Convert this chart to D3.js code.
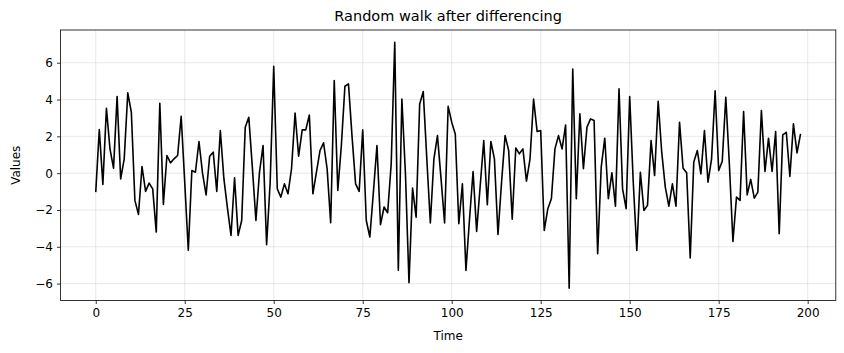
<!DOCTYPE html>
<html>
<head>
<meta charset="utf-8">
<script src="https://cdn.jsdelivr.net/npm/d3@7"></script>
<style>
    body { margin: 0; background: #ffffff; }
    text { font-family: "DejaVu Sans", sans-serif; fill: #000000; }
</style>
</head>
<body>
<div id="chart"></div>
<script>
// Differenced random walk (index = time step)
var values = [
    -1.03, 2.37, -0.61, 3.53, 1.32, 0.27, 4.16, -0.31, 0.78, 4.36,
    3.31, -1.48, -2.24, 0.36, -0.99, -0.54, -0.85, -3.2, 3.8, -1.70,
    0.96, 0.56, 0.78, 0.96, 3.09, -0.5, -4.19, 0.14, 0.05, 1.72,
    0.0, -1.18, 0.92, 1.14, -0.99, 2.31, -0.3, -1.9, -3.38, -0.25,
    -3.38, -2.57, 2.50, 3.04, 0.3, -2.57, 0.05, 1.50, -3.89, -0.49,
    5.80, -0.85, -1.30, -0.58, -1.12, 0.24, 3.27, 0.92, 2.35, 2.35,
    3.16, -1.12, 0.05, 1.23, 1.65, 0.24, -2.69, 5.03, -0.94, 1.5,
    4.72, 4.85, 2.0, -0.58, -0.99, 2.35, -2.57, -3.47, -1.03, 1.50,
    -2.80, -1.84, -2.15, 0.5, 7.11, -5.28, 4.03, 0.0, -5.95, -0.81,
    -2.39, 3.76, 4.43, 0.8, -2.71, 0.78, 2.04, -0.3, -2.71, 3.63,
    2.77, 2.13, -2.75, -0.58, -5.28, -2.5, 0.09, -3.16, -0.7, 1.77,
    -1.72, 1.72, 0.78, -3.33, -0.5, 2.04, 1.23, -2.5, 1.37, 1.05,
    1.32, -0.43, 0.78, 4.03, 2.26, 2.31, -3.11, -1.93, -1.39, 1.32,
    2.04, 1.32, 2.62, -6.25, 5.66, -1.39, 3.22, 0.24, 2.50, 2.95,
    2.86, -4.38, 0.33, 1.90, -1.39, 0.02, -1.79, 4.58, -0.85, -1.93,
    4.16, -0.49, -4.2, 0.05, -2.03, -1.75, 1.77, -0.13, 3.91, 1.14,
    -0.76, -1.79, -0.58, -1.79, 2.77, 0.27, 0.02, -4.61, 0.60, 1.23,
    -0.04, 2.31, -0.49, 0.78, 4.48, 0.14, 0.65, 4.12, 0.5, -3.71,
    -1.30, -1.48, 3.35, -1.18, -0.34, -1.36, -1.03, 3.40, 0.09, 1.90,
    0.09, 2.26, -3.29, 2.08, 2.22, -0.18, 2.68, 1.10, 2.13
];

var xTicks = [0, 25, 50, 75, 100, 125, 150, 175, 200];
var yTicks = [-6, -4, -2, 0, 2, 4, 6];

var titleText = "Random walk after differencing";
var xLabel = "Time";
var yLabel = "Values";

function main() {
    var margin = {top: 30, right: 8.2, bottom: 52.5, left: 60.5},
        width = 844 - margin.left - margin.right,
        height = 353 - margin.top - margin.bottom;

    var svg = d3.select("#chart").append("svg")
        .attr("width", 844)
        .attr("height", 353);

    var g = svg.append("g")
        .attr("transform", "translate(" + margin.left + "," + margin.top + ")");

    // matplotlib style 5% padding around the data
    var n = values.length - 1;
    var xPad = n * 0.05;
    var x = d3.scaleLinear().domain([-xPad, n + xPad]).range([0, width]);

    var yMin = d3.min(values), yMax = d3.max(values);
    var yPad = (yMax - yMin) * 0.05;
    var y = d3.scaleLinear().domain([yMin - yPad, yMax + yPad]).range([height, 0]);

    // Grid lines
    g.append("g").selectAll("line").data(xTicks).enter().append("line")
        .attr("x1", function(d) { return x(d); })
        .attr("x2", function(d) { return x(d); })
        .attr("y1", 0).attr("y2", height)
        .attr("stroke", "#b0b0b0").attr("stroke-opacity", 0.35).attr("stroke-width", 0.8);
    g.append("g").selectAll("line").data(yTicks).enter().append("line")
        .attr("x1", 0).attr("x2", width)
        .attr("y1", function(d) { return y(d); })
        .attr("y2", function(d) { return y(d); })
        .attr("stroke", "#b0b0b0").attr("stroke-opacity", 0.35).attr("stroke-width", 0.8);

    // The series
    var line = d3.line()
        .x(function(d, i) { return x(i); })
        .y(function(d) { return y(d); });

    g.append("path")
        .datum(values)
        .attr("fill", "none")
        .attr("stroke", "#000000")
        .attr("stroke-width", 1.6)
        .attr("stroke-linejoin", "round")
        .attr("d", line);

    // Axes
    var xAxis = g.append("g")
        .attr("transform", "translate(0," + height + ")")
        .call(d3.axisBottom(x).tickValues(xTicks).tickSize(3.5).tickPadding(4));
    var yAxis = g.append("g")
        .call(d3.axisLeft(y).tickValues(yTicks).tickSize(3.5).tickPadding(4)
            .tickFormat(function(d) { return d < 0 ? "\u2212" + Math.abs(d) : d; }));

    [xAxis, yAxis].forEach(function(a) {
        a.select(".domain").remove();
        a.selectAll("line").attr("stroke", "#000000").attr("stroke-width", 0.8);
        a.selectAll("text").style("font-size", "12px").style("font-family", "DejaVu Sans");
    });

    // Frame
    g.append("rect")
        .attr("width", width).attr("height", height)
        .attr("fill", "none").attr("stroke", "#000000").attr("stroke-width", 0.8);

    // Title and axis labels
    svg.append("text")
        .attr("x", margin.left + width / 2).attr("y", 21)
        .attr("text-anchor", "middle")
        .style("font-size", "14.5px")
        .text(titleText);

    svg.append("text")
        .attr("x", margin.left + width / 2).attr("y", 340)
        .attr("text-anchor", "middle")
        .style("font-size", "12px")
        .text(xLabel);

    svg.append("text")
        .attr("transform", "translate(20," + (margin.top + height / 2) + ") rotate(-90)")
        .attr("text-anchor", "middle")
        .style("font-size", "12px")
        .text(yLabel);
}

main();
</script>
</body>
</html>
